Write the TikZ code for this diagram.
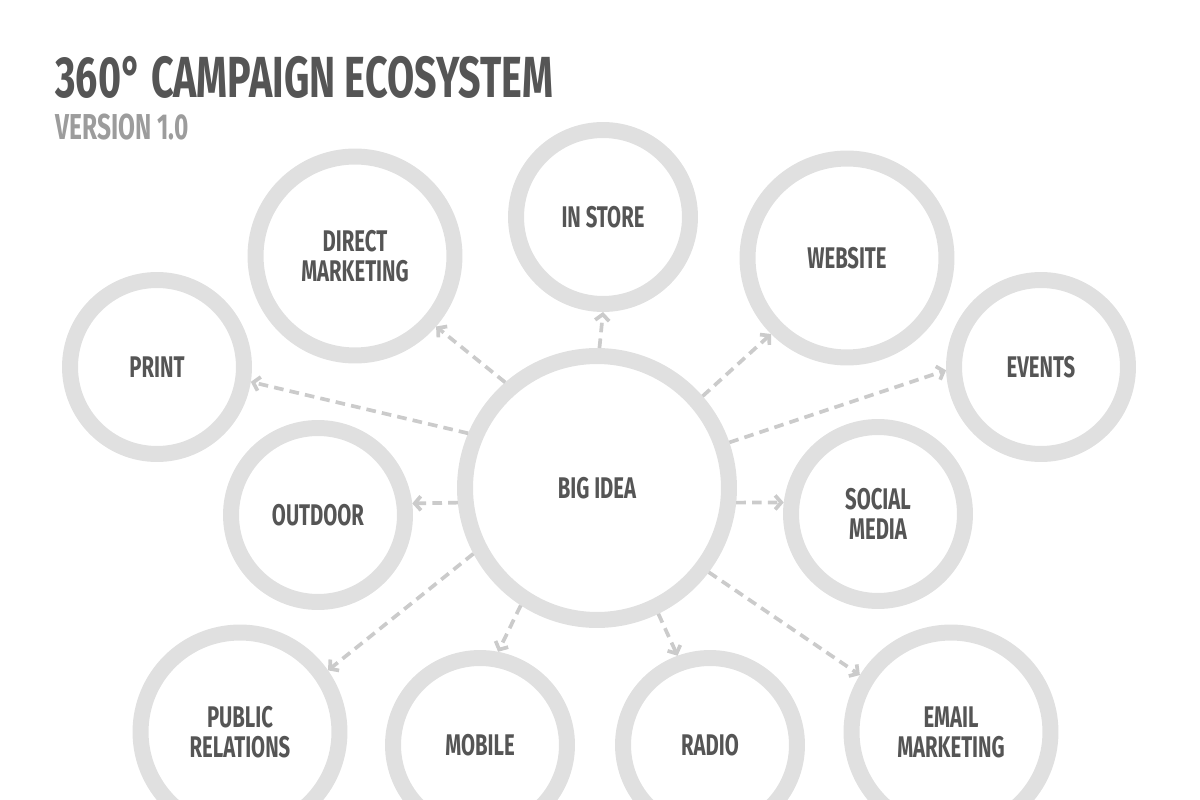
\documentclass[tikz,border=0pt]{standalone}
\usepackage{fontspec}
\setmainfont[FakeStretch=0.68]{Fira Sans}
\usetikzlibrary{arrows.meta}
\definecolor{ringgray}{HTML}{E0E0E0}
\definecolor{linkgray}{HTML}{CBCBCB}
\definecolor{textgray}{HTML}{555555}
\definecolor{subgray}{HTML}{9C9C9C}
\tikzset{
  ring/.style={circle, draw=ringgray, line width=9.1pt, text=textgray,
    align=center, font=\fontsize{17}{17}\selectfont\bfseries},
  small/.style={ring, minimum size=3.48cm},
  medium/.style={ring, minimum size=3.98cm},
  big/.style={ring, minimum size=5.28cm},
  link/.style={draw=linkgray, line width=2.1pt, dash pattern=on 5.5pt off 3.5pt,
    -{Straight Barb[length=3.5pt,width=8pt]}}
}
\begin{document}
\begin{tikzpicture}[x=0.02cm, y=-0.02cm]
      \useasboundingbox (0,0) rectangle (1200,800);
      \clip (0,0) rectangle (1200,800);
      \node[anchor=base west, inner sep=0, text=textgray,
        font=\fontsize{33}{33}\selectfont\bfseries] (title) at (55,98)
        {360° CAMPAIGN ECOSYSTEM};
      \node[anchor=base west, inner sep=0, text=subgray,
        font=\fontsize{20.5}{20.5}\selectfont\bfseries] (version) at (55,140)
        {VERSION 1.0};
      \node[big] (idea) at (597,488) {BIG IDEA};
      \node[small] (store) at (603,217) {IN STORE};
      \node[medium] (direct) at (355,256) {DIRECT\\MARKETING};
      \node[medium] (web) at (847,258) {WEBSITE};
      \node[small] (print) at (157,367) {PRINT};
      \node[small] (events) at (1041,367) {EVENTS};
      \node[small] (outdoor) at (318,515) {OUTDOOR};
      \node[small] (social) at (878,514) {SOCIAL\\MEDIA};
      \node[medium] (pr) at (240,732) {PUBLIC\\RELATIONS};
      \node[small] (mobile) at (480,745) {MOBILE};
      \node[small] (radio) at (710,745) {RADIO};
      \node[medium] (email) at (951,732) {EMAIL\\MARKETING};
      \begin{scope}[link]
        \draw (idea.131) to (direct.-41);
        \draw (idea.89) to (store.-90);
        \draw (idea.41) to (web.-135);
        \draw (idea.157) to (print.-9);
        \draw (idea.19) to (events.182);
        \draw (idea.186) to (outdoor.7);
        \draw (idea.-6) to (social.173);
        \draw (idea.208) to (pr.35);
        \draw (idea.237) to (mobile.79);
        \draw (idea.296) to (radio.110);
        \draw (idea.323) to (email.148);
      \end{scope}
\end{tikzpicture}
\end{document}
